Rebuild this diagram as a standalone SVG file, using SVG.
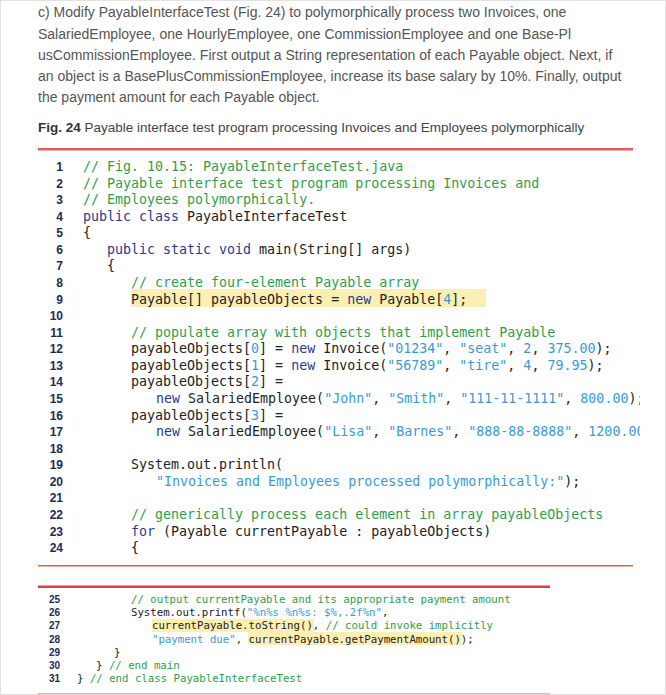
<svg xmlns="http://www.w3.org/2000/svg" width="666" height="695" viewBox="0 0 666 695">
<style>
.p{font-family:"Liberation Sans",Arial,sans-serif;font-size:14px;fill:#555}
.c{font-family:"DejaVu Sans Mono",monospace;font-size:13.3px;fill:#222}
.s{font-family:"DejaVu Sans Mono",monospace;font-size:10.7px;fill:#222}
.n{font-family:"Liberation Sans",Arial,sans-serif;font-weight:bold;font-size:12px;fill:#1c2b57;text-anchor:end}
.m{font-size:10px}
.g{fill:#2e9e4a}.k{fill:#2a3b8f}.q{fill:#3a9ad9}
.hl{fill:#fcefb4}
</style>
<defs><clipPath id="cl"><rect x="0" y="150" width="640" height="420"/></clipPath></defs>
<rect x="0.5" y="0.5" width="665" height="694" fill="#fff" stroke="#e2e2e2"/>
<g id="intro">
<text class="p" x="38" y="17">c) Modify PayableInterfaceTest (Fig. 24) to polymorphically process two Invoices, one</text>
<text class="p" x="38" y="38.5">SalariedEmployee, one HourlyEmployee, one CommissionEmployee and one Base-Pl</text>
<text class="p" x="38" y="59.5">usCommissionEmployee. First output a String representation of each Payable object. Next, if</text>
<text class="p" x="38" y="81">an object is a BasePlusCommissionEmployee, increase its base salary by 10%. Finally, output</text>
<text class="p" x="38" y="102">the payment amount for each Payable object.</text>
<text class="p" x="38" y="132" style="font-size:13.5px;fill:#444"><tspan font-weight="bold" fill="#333">Fig. 24</tspan> Payable interface test program processing Invoices and Employees polymorphically</text>
</g>
<g id="rules">
<rect x="38" y="148" width="595" height="2.5" fill="#d9605f"/>
<rect x="38" y="565" width="595" height="1.5" fill="#d9605f"/>
<rect x="38" y="585.5" width="512" height="2.5" fill="#d9404a"/>
<rect x="38" y="693" width="512" height="1.5" fill="#efb6b6"/>
</g>
<g id="highlights">
<rect class="hl" x="131" y="289" width="355" height="18"/>
<rect class="hl" x="152" y="619" width="162" height="13"/>
<rect class="hl" x="248" y="632" width="214" height="13"/>
</g>
<g id="code1" clip-path="url(#cl)">
<text class="n" x="63" y="171">1</text><text class="c g" x="83" y="171">// Fig. 10.15: PayableInterfaceTest.java</text>
<text class="n" x="63" y="187.6">2</text><text class="c g" x="83" y="187.6">// Payable interface test program processing Invoices and</text>
<text class="n" x="63" y="204.1">3</text><text class="c g" x="83" y="204.1">// Employees polymorphically.</text>
<text class="n" x="63" y="220.7">4</text><text class="c" x="83" y="220.7"><tspan class="k">public class</tspan> PayableInterfaceTest</text>
<text class="n" x="63" y="237.3">5</text><text class="c" x="83" y="237.3">{</text>
<text class="n" x="63" y="253.9">6</text><text class="c" x="107" y="253.9"><tspan class="k">public static void</tspan> main(String[] args)</text>
<text class="n" x="63" y="270.4">7</text><text class="c" x="107" y="270.4">{</text>
<text class="n" x="63" y="287">8</text><text class="c g" x="131" y="287">// create four-element Payable array</text>
<text class="n" x="63" y="303.6">9</text><text class="c" x="131" y="303.6">Payable[] payableObjects = <tspan class="k">new</tspan> Payable[<tspan class="q">4</tspan>];</text>
<text class="n" x="63" y="320.1">10</text>
<text class="n" x="63" y="336.7">11</text><text class="c g" x="131" y="336.7">// populate array with objects that implement Payable</text>
<text class="n" x="63" y="353.3">12</text><text class="c" x="131" y="353.3">payableObjects[<tspan class="q">0</tspan>] = <tspan class="k">new</tspan> Invoice(<tspan class="q">"01234"</tspan>, <tspan class="q">"seat"</tspan>, <tspan class="q">2</tspan>, <tspan class="q">375.00</tspan>);</text>
<text class="n" x="63" y="369.9">13</text><text class="c" x="131" y="369.9">payableObjects[<tspan class="q">1</tspan>] = <tspan class="k">new</tspan> Invoice(<tspan class="q">"56789"</tspan>, <tspan class="q">"tire"</tspan>, <tspan class="q">4</tspan>, <tspan class="q">79.95</tspan>);</text>
<text class="n" x="63" y="386.4">14</text><text class="c" x="131" y="386.4">payableObjects[<tspan class="q">2</tspan>] =</text>
<text class="n" x="63" y="403">15</text><text class="c" x="156" y="403"><tspan class="k">new</tspan> SalariedEmployee(<tspan class="q">"John"</tspan>, <tspan class="q">"Smith"</tspan>, <tspan class="q">"111-11-1111"</tspan>, <tspan class="q">800.00</tspan>);</text>
<text class="n" x="63" y="419.6">16</text><text class="c" x="131" y="419.6">payableObjects[<tspan class="q">3</tspan>] =</text>
<text class="n" x="63" y="436.1">17</text><text class="c" x="156" y="436.1"><tspan class="k">new</tspan> SalariedEmployee(<tspan class="q">"Lisa"</tspan>, <tspan class="q">"Barnes"</tspan>, <tspan class="q">"888-88-8888"</tspan>, <tspan class="q">1200.00</tspan>);</text>
<text class="n" x="63" y="452.7">18</text>
<text class="n" x="63" y="469.3">19</text><text class="c" x="131" y="469.3">System.out.println(</text>
<text class="n" x="63" y="485.9">20</text><text class="c q" x="156" y="485.9">"Invoices and Employees processed polymorphically:"<tspan fill="#222">);</tspan></text>
<text class="n" x="63" y="502.4">21</text>
<text class="n" x="63" y="519">22</text><text class="c g" x="131" y="519">// generically process each element in array payableObjects</text>
<text class="n" x="63" y="535.6">23</text><text class="c" x="131" y="535.6"><tspan class="k">for</tspan> (Payable currentPayable : payableObjects)</text>
<text class="n" x="63" y="552.1">24</text><text class="c" x="131" y="552.1">{</text>
</g>
<g id="code2">
<text class="n m" x="60" y="603">25</text><text class="s g" x="131" y="603">// output currentPayable and its appropriate payment amount</text>
<text class="n m" x="60" y="616.2">26</text><text class="s" x="131" y="616.2">System.out.printf(<tspan class="q">"%n%s %n%s: $%,.2f%n"</tspan>,</text>
<text class="n m" x="60" y="629.4">27</text><text class="s" x="152" y="629.4">currentPayable.toString(), <tspan class="g">// could invoke implicitly</tspan></text>
<text class="n m" x="60" y="642.6">28</text><text class="s" x="152" y="642.6"><tspan class="q">"payment due"</tspan>, currentPayable.getPaymentAmount());</text>
<text class="n m" x="60" y="655.8">29</text><text class="s" x="114" y="655.8">}</text>
<text class="n m" x="60" y="669">30</text><text class="s" x="96" y="669">} <tspan class="g">// end main</tspan></text>
<text class="n m" x="60" y="682.2">31</text><text class="s" x="77" y="682.2">} <tspan class="g">// end class PayableInterfaceTest</tspan></text>
</g>
</svg>
